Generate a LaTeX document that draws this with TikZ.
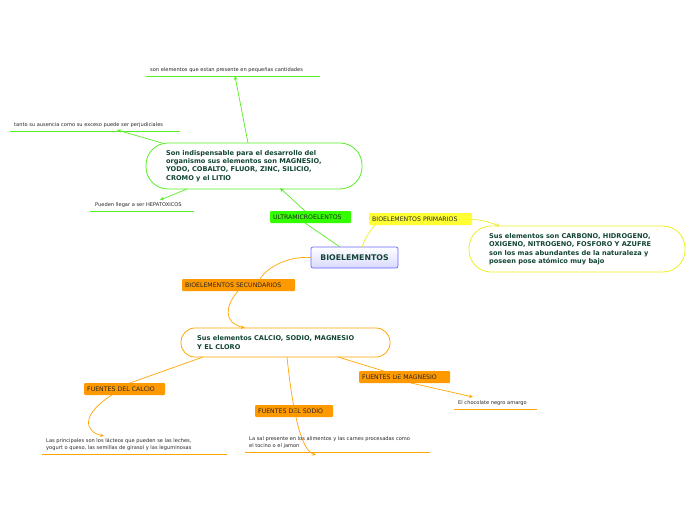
\documentclass[tikz,border=0pt]{standalone}
\usepackage{fontspec}
\setmainfont{DejaVu Sans}
\usetikzlibrary{arrows.meta}
\definecolor{gr}{HTML}{55EE22}
\definecolor{grf}{HTML}{33FF00}
\definecolor{ye}{HTML}{EEEE22}
\definecolor{yef}{HTML}{FFFF33}
\definecolor{orr}{HTML}{FFA500}
\definecolor{orf}{HTML}{FF9900}
\definecolor{dk}{HTML}{114433}
\tikzset{
 lab/.style={font=\fontsize{6.2}{7}\selectfont, text=black!85, inner xsep=3pt, inner ysep=0pt, minimum height=12pt, anchor=west, rounded corners=1pt, align=left, text width=#1},
 big/.style={font=\fontsize{6.6}{8.4}\bfseries\selectfont, text=dk, align=left, inner sep=0pt, anchor=west},
 tiny/.style={font=\fontsize{5.1}{7}\selectfont, text=black!85, anchor=west, align=left, inner sep=0pt},
 con/.style={line width=0.7pt, -{Stealth[length=4pt,width=3.5pt]}},
 nl/.style={line width=0.7pt}
}
\begin{document}
\begin{tikzpicture}[x=1pt,y=-1pt]
\useasboundingbox (0,0) rectangle (696,520);
% central
\node[draw=blue!60, line width=0.7pt, top color=white, bottom color=blue!15, rounded corners=2pt, minimum width=87pt, minimum height=21pt, font=\fontsize{7.8}{8}\bfseries\selectfont, text=dk] (c) at (354.5,257.5) {BIOELEMENTOS};
% green branch
\node[lab=75pt, fill=grf] (um) at (270,217) {ULTRAMICROELENTOS};
\draw[gr, line width=0.8pt, rounded corners=22pt] (146,143) rectangle (362,189);
\node[big] (gn) at (166,166) {Son indispensable para el desarrollo del\\organismo sus elementos son MAGNESIO,\\YODO, COBALTO, FLUOR, ZINC, SILICIO,\\CROMO y el LITIO};
\coordinate (gtop) at (248,143); \coordinate (gtl) at (162,143); \coordinate (gbl) at (187,189); \coordinate (gbr) at (280,188);
\node[tiny] (t1) at (150,70) {son elementos que estan presente en pequeñas cantidades};
\draw[gr, line width=1pt] (146,76) -- (320,76);
\coordinate (t1a) at (235,76);
\node[tiny] (t2) at (14,125) {tanto su ausencia como su exceso puede ser perjudiciales};
\draw[gr, line width=1pt] (10,131) -- (180,131);
\coordinate (t2a) at (117,130);
\node[tiny] (t3) at (95,205) {Pueden llegar a ser HEPATOXICOS};
\draw[gr, line width=1pt] (90,211) -- (194,211);
\coordinate (t3a) at (160,200);
\draw[gr, nl] (340,247) -- (305,223);
\draw[gr, con] (305,211) -- (gbr);
\draw[gr, con] (gtop) -- (t1a);
\draw[gr, con] (gtl) -- (t2a);
\draw[gr, con] (gbl) -- (t3a);
% yellow
\node[lab=97pt, fill=yef] (pr) at (369,219) {BIOELEMENTOS PRIMARIOS};
\draw[ye, line width=0.8pt, rounded corners=22pt] (469,226) rectangle (685,272);
\node[big] (yn) at (489,249) {Sus elementos son CARBONO, HIDROGENO,\\OXIGENO, NITROGENO, FOSFORO Y AZUFRE\\son los mas abundantes de la naturaleza y\\poseen pose atómico muy bajo};
\coordinate (ya) at (500,226);
\draw[ye, nl] (362,247) .. controls (366,236) and (372,228) .. (375,225);
\draw[ye, con] (472,219) .. controls (485,221) .. (ya);
% orange
\node[lab=107pt, fill=orf] (se) at (182,285) {BIOELEMENTOS SECUNDARIOS};
\draw[orr, line width=0.8pt, rounded corners=14pt] (181,328) rectangle (390,357);
\node[big] (on) at (197,342.5) {Sus elementos CALCIO, SODIO, MAGNESIO\\Y EL CLORO};
\coordinate (otop) at (245,328);
\draw[orr, nl] (c.west) .. controls (290,256) and (268,266) .. (260,279);
\draw[orr, con] (238,291) .. controls (226,305) and (222,322) .. (otop);
\node[lab=75pt, fill=orf] (fc) at (84,389) {FUENTES DEL CALCIO};
\node[lab=72pt, fill=orf] (fs) at (255,411) {FUENTES DEL SODIO};
\node[lab=85pt, fill=orf] (fm) at (359,377) {FUENTES DE MAGNESIO};
\draw[orr, nl] (203,357) -- (130,383);
\draw[orr, con] (112,395) .. controls (80,415) and (85,432) .. (104,436);
\draw[orr, con] (287,357) .. controls (292,405) and (300,450) .. (316,455);
\draw[orr, nl] (338,357) -- (400,376);
\draw[orr, con] (411,383) -- (473,397);
\node[tiny] (tc) at (46,444) {Las principales son los lácteos que pueden se las leches,\\yogurt o queso, las semillas de girasol y las leguminosas};
\draw[orr, line width=1pt] (42,454) -- (227,454);
\node[tiny] (ts) at (249,442.5) {La sal presente en los alimentos y las carnes procesadas como\\el tocino o el jamon};
\draw[orr, line width=1pt] (245,452) -- (430,452);
\node[tiny] (tm) at (458,403) {El chocolate negro amargo};
\draw[orr, line width=1pt] (454,409) -- (537,409);
\end{tikzpicture}
\end{document}
